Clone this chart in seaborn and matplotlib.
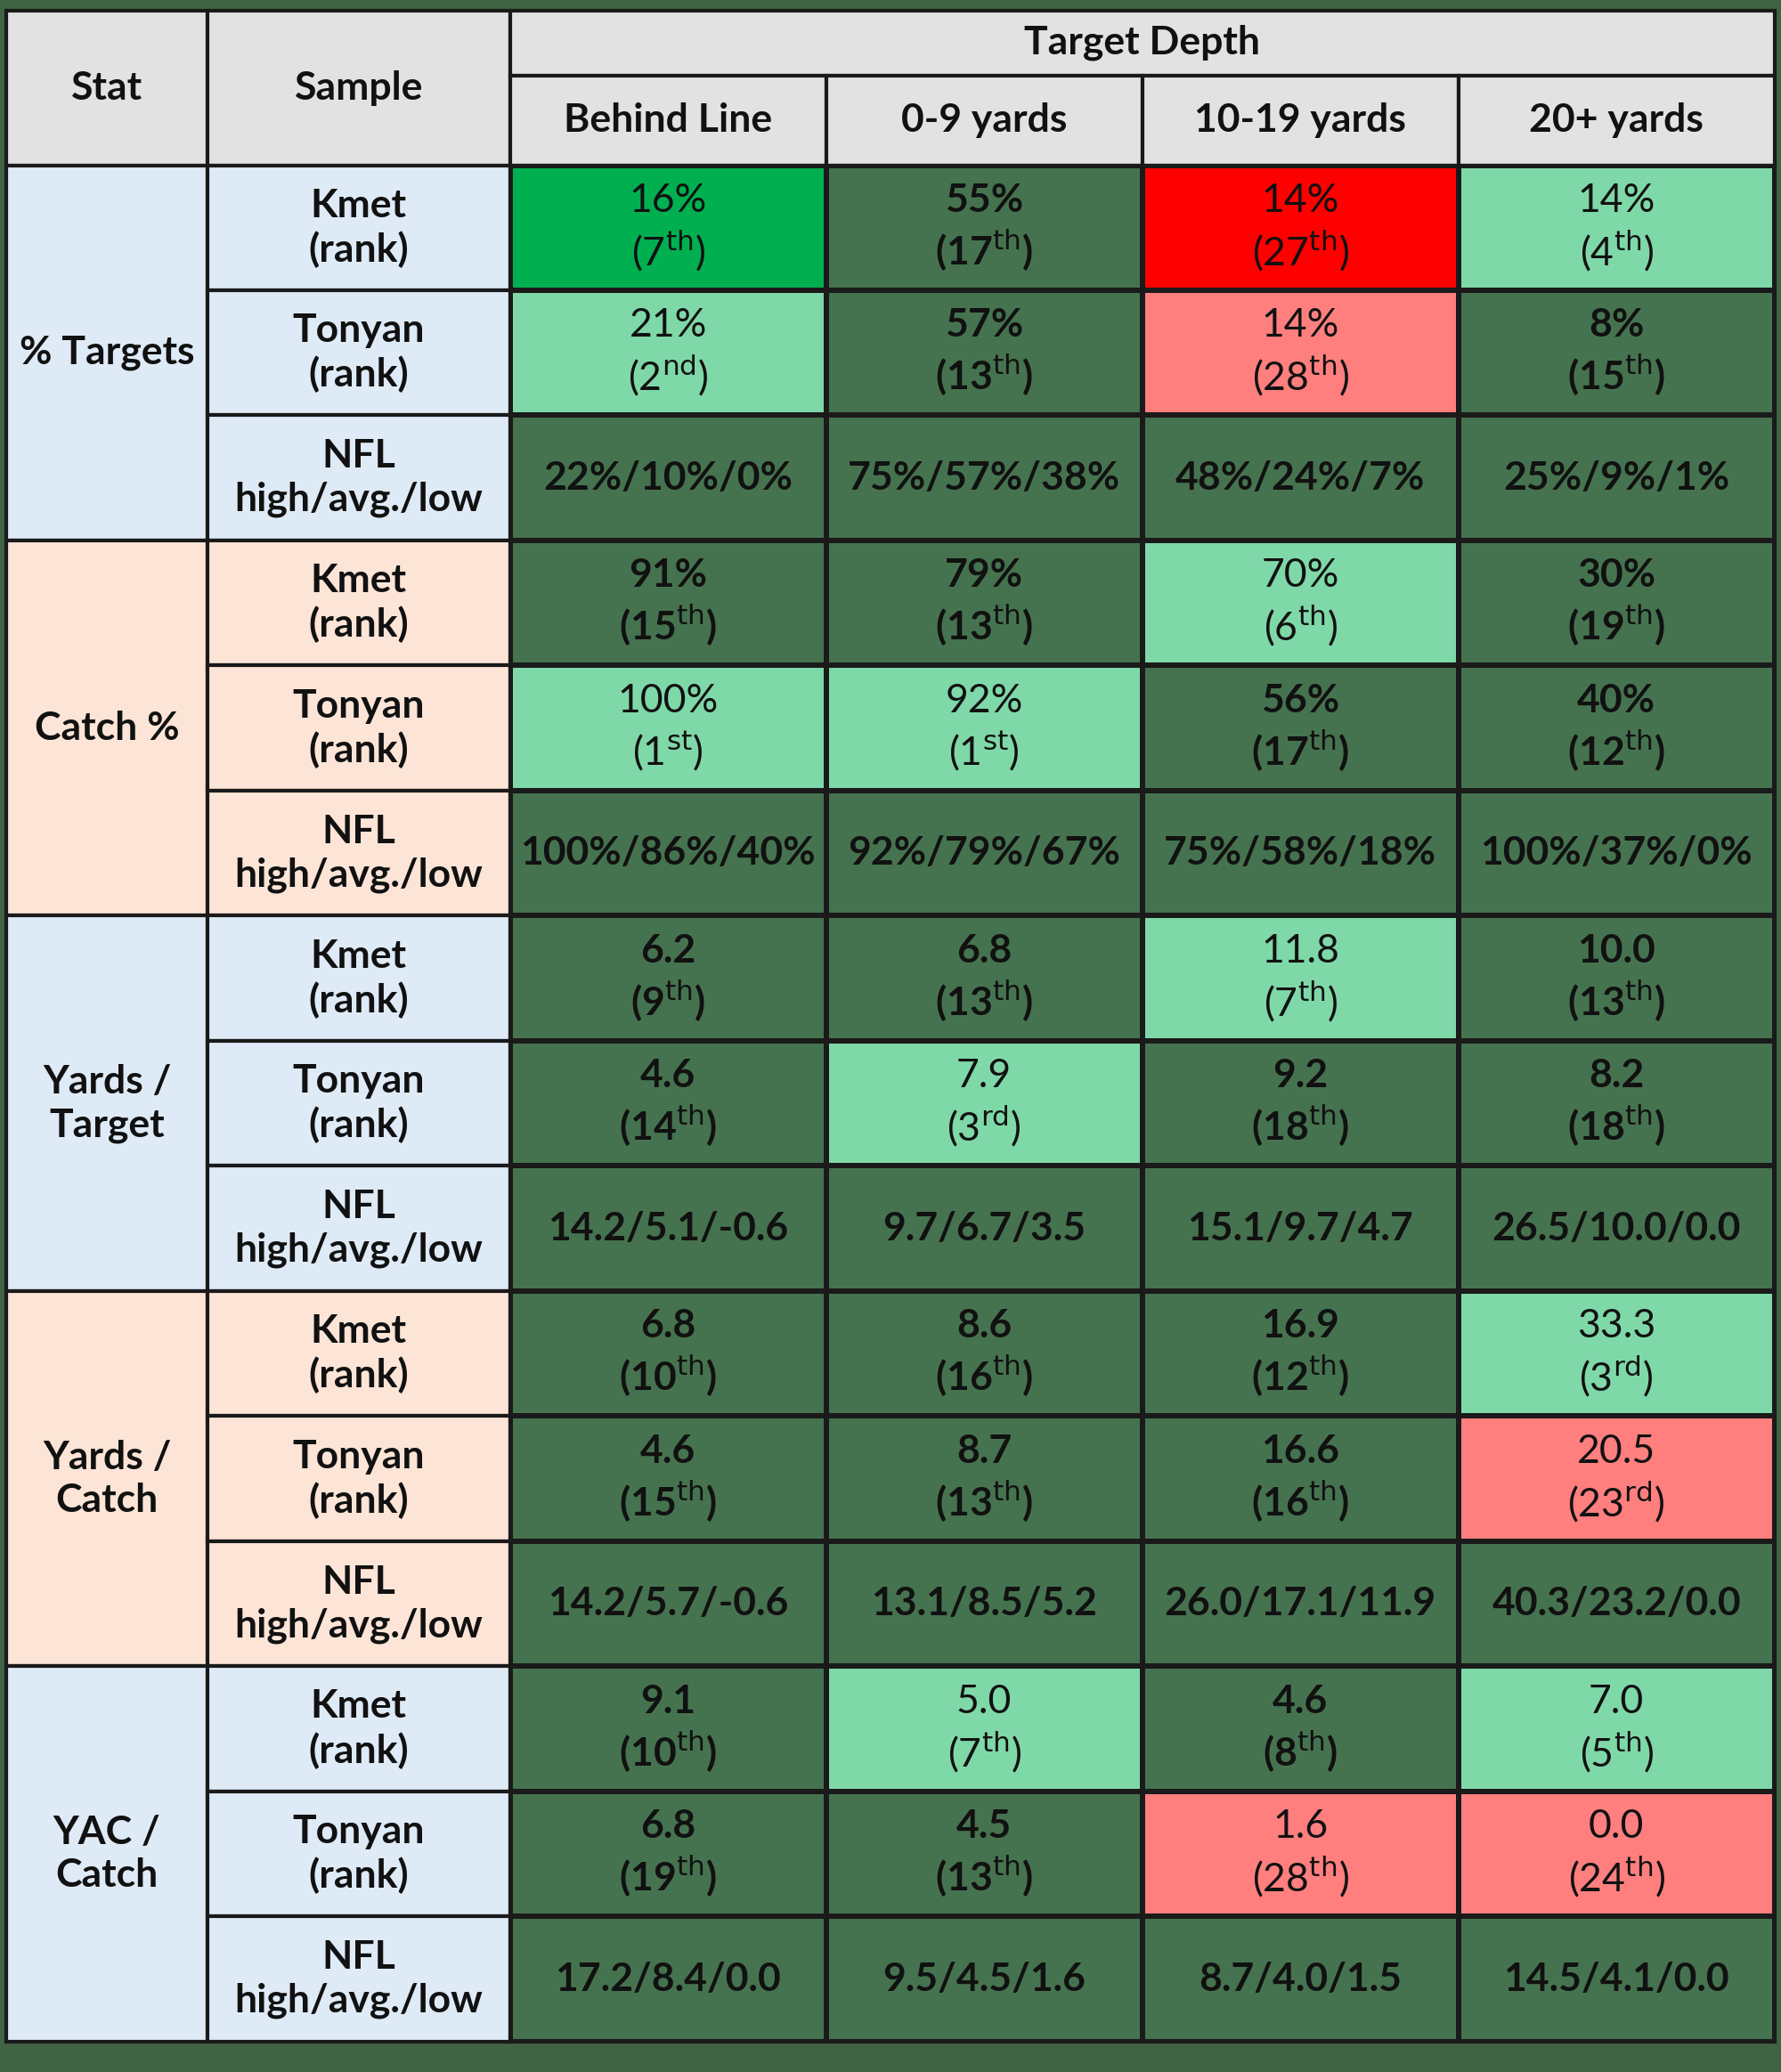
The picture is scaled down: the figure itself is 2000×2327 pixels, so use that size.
import numpy as np
import matplotlib
matplotlib.use("Agg")
import matplotlib.pyplot as plt
from matplotlib.colors import ListedColormap
from matplotlib.patches import Rectangle
import seaborn as sns

plt.rcParams["font.family"] = "Lato"

depths = ["Behind Line", "0-9 yards", "10-19 yards", "20+ yards"]
stats = ["% Targets", "Catch %", "Yards /\nTarget", "Yards /\nCatch", "YAC /\nCatch"]
samples = ["Kmet\n(rank)", "Tonyan\n(rank)", "NFL\nhigh/avg./low"]

kmet_vals = [["16%", "55%", "14%", "14%"], ["91%", "79%", "70%", "30%"],
             ["6.2", "6.8", "11.8", "10.0"], ["6.8", "8.6", "16.9", "33.3"],
             ["9.1", "5.0", "4.6", "7.0"]]
kmet_rank = [[7, 17, 27, 4], [15, 13, 6, 19], [9, 13, 7, 13], [10, 16, 12, 3], [10, 7, 8, 5]]
tonyan_vals = [["21%", "57%", "14%", "8%"], ["100%", "92%", "56%", "40%"],
               ["4.6", "7.9", "9.2", "8.2"], ["4.6", "8.7", "16.6", "20.5"],
               ["6.8", "4.5", "1.6", "0.0"]]
tonyan_rank = [[2, 13, 28, 15], [1, 1, 17, 12], [14, 3, 18, 18], [15, 13, 16, 23], [19, 13, 28, 24]]
nfl_vals = [["22%/10%/0%", "75%/57%/38%", "48%/24%/7%", "25%/9%/1%"],
            ["100%/86%/40%", "92%/79%/67%", "75%/58%/18%", "100%/37%/0%"],
            ["14.2/5.1/-0.6", "9.7/6.7/3.5", "15.1/9.7/4.7", "26.5/10.0/0.0"],
            ["14.2/5.7/-0.6", "13.1/8.5/5.2", "26.0/17.1/11.9", "40.3/23.2/0.0"],
            ["17.2/8.4/0.0", "9.5/4.5/1.6", "8.7/4.0/1.5", "14.5/4.1/0.0"]]
# colour class: 0 dark, 1 bright green, 2 red, 3 light green, 4 pink
kmet_cls = [[1, 0, 2, 3], [0, 0, 3, 0], [0, 0, 3, 0], [0, 0, 0, 3], [0, 3, 0, 3]]
tonyan_cls = [[3, 0, 4, 0], [3, 3, 0, 0], [0, 3, 0, 0], [0, 0, 0, 4], [0, 0, 4, 4]]

colors = ["#46734F", "#00B050", "#FF0000", "#7FD8A8", "#FF7F7F"]

def ordinal(n):
    if n % 100 in (11, 12, 13):
        s = "th"
    else:
        s = {1: "st", 2: "nd", 3: "rd"}.get(n % 10, "th")
    return f"({n}$^{{\\mathrm{{{s}}}}}$)"

grid = []
for s in range(5):
    grid.append(kmet_cls[s]); grid.append(tonyan_cls[s]); grid.append([0, 0, 0, 0])
grid = np.array(grid)

W, H = 1348, 1568
fig = plt.figure(figsize=(20, 23.27), dpi=100, facecolor="#3E6443")
bg = fig.add_axes([0, 0, 1, 1])
bg.set_xlim(0, W); bg.set_ylim(H, 0); bg.axis("off")

X0, X1, X2, X3 = 5, 157, 386, 1343
Y0, Y1, Y2, Y3 = 8, 57, 125, 1545
lw = 3
fs = 32

def cell(x, y, w, h, fc, txt, weight="bold"):
    bg.add_patch(Rectangle((x, y), w, h, fc=fc, ec="#1a1a1a", lw=lw))
    if txt:
        bg.text(x + w / 2, y + h / 2, txt, ha="center", va="center", fontsize=fs,
                fontweight=weight, color="#111", linespacing=1.25)

cell(X0, Y0, X1 - X0, Y2 - Y0, "#E2E2E2", "Stat")
cell(X1, Y0, X2 - X1, Y2 - Y0, "#E2E2E2", "Sample")
cell(X2, Y0, X3 - X2, Y1 - Y0, "#E2E2E2", "Target Depth")
cw = (X3 - X2) / 4
for j, d in enumerate(depths):
    cell(X2 + j * cw, Y1, cw, Y2 - Y1, "#E2E2E2", d)
rh = (Y3 - Y2) / 15
side = ["#DEEAF6", "#FCE4D6"]
for s in range(5):
    cell(X0, Y2 + s * 3 * rh, X1 - X0, 3 * rh, side[s % 2], stats[s])
    for r in range(3):
        cell(X1, Y2 + (s * 3 + r) * rh, X2 - X1, rh, side[s % 2], samples[r])

ax = fig.add_axes([X2 / W, 1 - Y3 / H, (X3 - X2) / W, (Y3 - Y2) / H])
sns.heatmap(grid, ax=ax, cmap=ListedColormap(colors), vmin=-0.5, vmax=4.5, cbar=False,
            linewidths=lw, linecolor="#1a1a1a", xticklabels=False, yticklabels=False)
for sp in ax.spines.values():
    sp.set_visible(True); sp.set_linewidth(lw); sp.set_color("#1a1a1a")

for s in range(5):
    for j in range(4):
        for r, (v, rk, cl) in enumerate([(kmet_vals[s][j], kmet_rank[s][j], kmet_cls[s][j]),
                                          (tonyan_vals[s][j], tonyan_rank[s][j], tonyan_cls[s][j])]):
            ax.text(j + 0.5, s * 3 + r + 0.5, f"{v}\n{ordinal(rk)}", ha="center", va="center",
                    fontsize=fs, fontweight="bold" if cl == 0 else "normal", color="#111",
                    linespacing=1.25)
        ax.text(j + 0.5, s * 3 + 2 + 0.5, nfl_vals[s][j], ha="center", va="center",
                fontsize=fs, fontweight="bold", color="#111")

fig.savefig("out.png", dpi=100, facecolor=fig.get_facecolor())
